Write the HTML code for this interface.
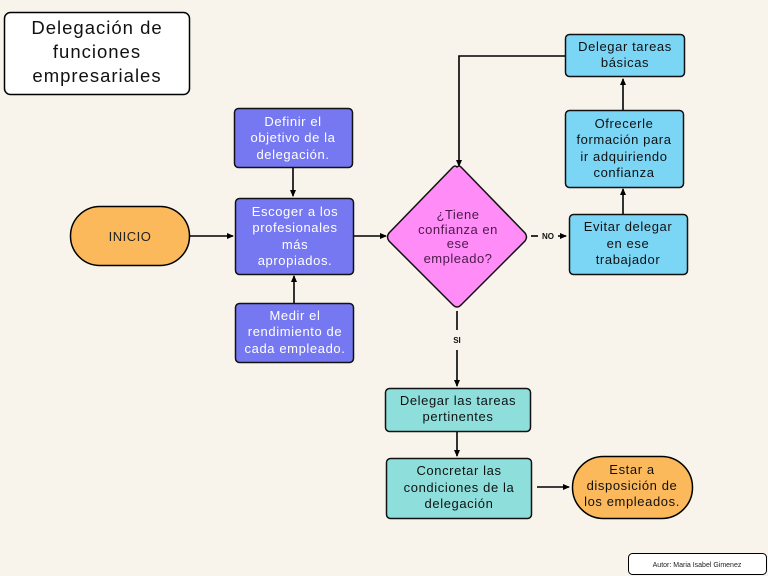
<!DOCTYPE html>
<html><head><meta charset="utf-8"><style>
html,body{margin:0;padding:0;background:#f8f4ec;}
svg{display:block}
text{font-family:"Liberation Sans","DejaVu Sans",sans-serif;}
</style></head><body>
<svg width="768" height="576" viewBox="0 0 768 576" xmlns="http://www.w3.org/2000/svg">
<defs>
<marker id="a" markerWidth="8" markerHeight="8" refX="6" refY="4" orient="auto" markerUnits="userSpaceOnUse">
<path d="M0,1 L7,4 L0,7 Z" fill="#000"/></marker>
</defs>
<rect width="768" height="576" fill="#f8f4ec"/>
<!-- title -->
<rect x="4.5" y="12.5" width="185" height="82" rx="6" fill="#fff" stroke="#000" stroke-width="1.5"/>
<g font-size="18.5" fill="#111" text-anchor="middle" letter-spacing="1">
<text x="97" y="34">Delegación de</text>
<text x="97" y="58">funciones</text>
<text x="97" y="82">empresariales</text>
</g>
<!-- connectors -->
<g stroke="#000" stroke-width="1.6" fill="none">
<line x1="189" y1="236" x2="233" y2="236" marker-end="url(#a)"/>
<line x1="293" y1="168" x2="293" y2="196" marker-end="url(#a)"/>
<line x1="294" y1="303" x2="294" y2="276" marker-end="url(#a)"/>
<line x1="354" y1="236" x2="386" y2="236" marker-end="url(#a)"/>
<line x1="531" y1="236" x2="538" y2="236"/>
<line x1="558" y1="236" x2="566" y2="236" marker-end="url(#a)"/>
<line x1="623" y1="214" x2="623" y2="189" marker-end="url(#a)"/>
<line x1="623" y1="110" x2="623" y2="79" marker-end="url(#a)"/>
<polyline points="565,56 459,56 459,166" marker-end="url(#a)"/>
<line x1="457" y1="311" x2="457" y2="330"/>
<line x1="457" y1="350" x2="457" y2="386" marker-end="url(#a)"/>
<line x1="457" y1="431" x2="457" y2="456" marker-end="url(#a)"/>
<line x1="537" y1="487" x2="569" y2="487" marker-end="url(#a)"/>
</g>
<g font-size="8" font-weight="bold" fill="#111" text-anchor="middle">
<text x="548" y="239">NO</text>
<text x="457" y="343">SI</text>
</g>
<!-- INICIO -->
<rect x="70.5" y="206.5" width="119" height="59" rx="29.5" fill="#fbb95c" stroke="#000" stroke-width="1.5"/>
<text x="130" y="241" font-size="13" text-anchor="middle" fill="#222" letter-spacing="0.5">INICIO</text>
<!-- purple boxes -->
<g fill="#7678f2" stroke="#111" stroke-width="1.5">
<rect x="234.5" y="108.5" width="118" height="59" rx="4"/>
<rect x="235.5" y="198.5" width="118" height="76" rx="4"/>
<rect x="235.5" y="303.5" width="118" height="59" rx="4"/>
</g>
<g font-size="13" fill="#fff" text-anchor="middle" letter-spacing="0.6">
<text x="293" y="126">Definir el</text>
<text x="293" y="142">objetivo de la</text>
<text x="293" y="159">delegación.</text>
<text x="295" y="216">Escoger a los</text>
<text x="295" y="232">profesionales</text>
<text x="295" y="249">más</text>
<text x="295" y="265">apropiados.</text>
<text x="295" y="320">Medir el</text>
<text x="295" y="336">rendimiento de</text>
<text x="295" y="353">cada empleado.</text>
</g>
<!-- diamond -->
<path d="M457,167 Q459,165 461,167 L525,233 Q528,237 525,241 L461,305 Q457,309 453,305 L389,241 Q386,237 389,233 L453,167 Q455,165 457,167 Z" fill="#ff8cf7" stroke="#111" stroke-width="1.5"/>
<g font-size="13" fill="#4a1a4a" text-anchor="middle" letter-spacing="0.5">
<text x="458" y="219">¿Tiene</text>
<text x="458" y="234">confianza en</text>
<text x="458" y="248">ese</text>
<text x="458" y="263">empleado?</text>
</g>
<!-- cyan boxes -->
<g fill="#7bd5f5" stroke="#111" stroke-width="1.5">
<rect x="565.5" y="34.5" width="119" height="42" rx="4"/>
<rect x="565.5" y="110.5" width="118" height="77" rx="4"/>
<rect x="569.5" y="214.5" width="118" height="60" rx="4"/>
</g>
<g font-size="13" fill="#111" text-anchor="middle" letter-spacing="0.6">
<text x="625" y="51">Delegar tareas</text>
<text x="625" y="67">básicas</text>
<text x="624" y="128">Ofrecerle</text>
<text x="624" y="144">formación para</text>
<text x="624" y="161">ir adquiriendo</text>
<text x="624" y="177">confianza</text>
<text x="628" y="231">Evitar delegar</text>
<text x="628" y="248">en ese</text>
<text x="628" y="264">trabajador</text>
</g>
<!-- teal boxes -->
<g fill="#8edfdb" stroke="#111" stroke-width="1.5">
<rect x="385.5" y="388.5" width="145" height="43" rx="4"/>
<rect x="386.5" y="458.5" width="145" height="60" rx="4"/>
</g>
<g font-size="13" fill="#111" text-anchor="middle" letter-spacing="0.6">
<text x="458" y="405">Delegar las tareas</text>
<text x="458" y="421">pertinentes</text>
<text x="459" y="475">Concretar las</text>
<text x="459" y="492">condiciones de la</text>
<text x="459" y="508">delegación</text>
</g>
<!-- Estar -->
<rect x="572.5" y="456.5" width="120" height="62" rx="31" fill="#fbb95c" stroke="#000" stroke-width="1.5"/>
<g font-size="13" fill="#111" text-anchor="middle" letter-spacing="0.6">
<text x="632" y="474">Estar a</text>
<text x="632" y="490">disposición de</text>
<text x="632" y="506">los empleados.</text>
</g>
<!-- author -->
<rect x="628.5" y="553.5" width="138" height="21" rx="4" fill="#fff" stroke="#000" stroke-width="1"/>
<text x="697" y="567" font-size="7" text-anchor="middle" fill="#222">Autor: Maria Isabel Gimenez</text>
</svg>
</body></html>
